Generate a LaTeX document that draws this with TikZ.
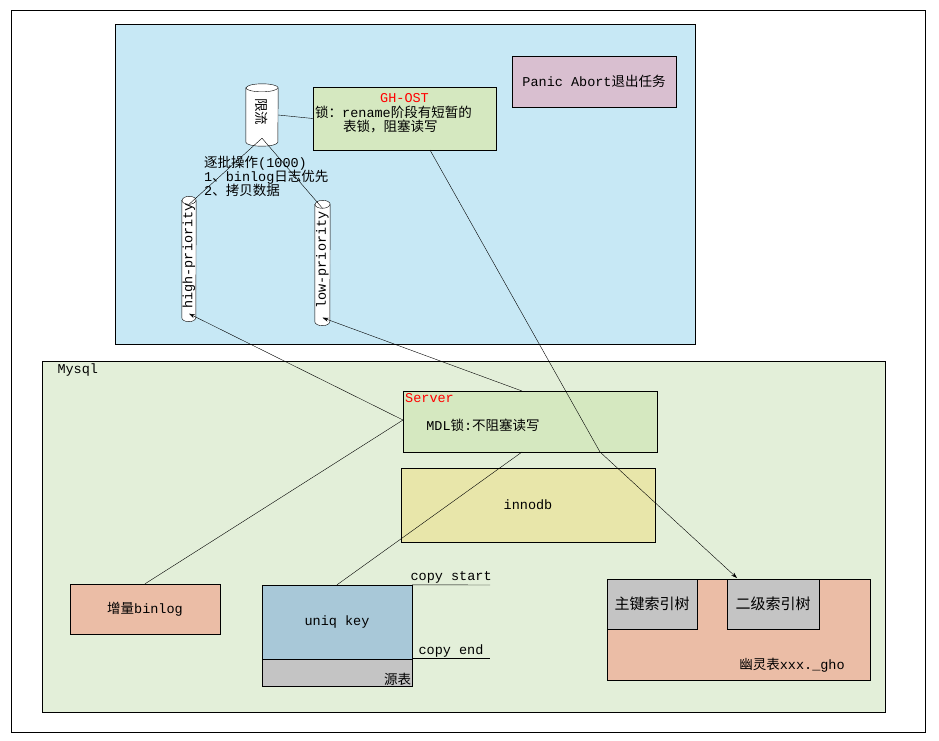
\documentclass[tikz,border=0pt]{standalone}
\usepackage{fontspec}
\setmainfont{Liberation Mono}
\newfontfamily\cjk{Noto Sans CJK SC}
\usetikzlibrary{shapes.geometric,arrows.meta,positioning}
\definecolor{skyfill}{HTML}{C7E8F5}
\definecolor{mysqlfill}{HTML}{E3EFD9}
\definecolor{greenfill}{HTML}{D5E8C0}
\definecolor{innofill}{HTML}{E8E6AA}
\definecolor{salmon}{HTML}{EBBDA6}
\definecolor{panicfill}{HTML}{D9BFD0}
\definecolor{keyfill}{HTML}{A8C8D8}
\definecolor{grayfill}{HTML}{C4C4C4}
% cylinder drawn on a named rectangle node
\newcommand{\drawcan}[2]{%
  \draw[fill=white] (#1.north west) -- (#1.south west)
    arc[start angle=180, end angle=360, x radius=#2, y radius=4pt]
    -- (#1.north east)
    arc[start angle=0, end angle=180, x radius=#2, y radius=4pt] -- cycle;
  \draw (#1.north west) arc[start angle=180, end angle=360, x radius=#2, y radius=4pt];
}
\begin{document}
\begin{tikzpicture}[x=1pt,y=-1pt,
    font=\fontsize{13.5}{16}\selectfont,
    region/.style={draw, thin},
    box/.style={draw, inner sep=0pt},
    can/.style={rectangle, inner sep=0pt},
    arrow/.style={-{Stealth[length=6pt,width=4pt]}}
]
    \useasboundingbox (0,0) rectangle (939,741);
    % frames
    \draw[fill=white] (11,10) rectangle (925,732);
    \draw[region, fill=skyfill] (115,24) rectangle (695,344);
    \draw[region, fill=mysqlfill] (42,361) rectangle (885,712);
    \node[anchor=west] (mysql) at (54,370) {Mysql};

    % GH-OST side
    \node[box, fill=panicfill, minimum width=164pt, minimum height=51pt] (panic) at (594,81.5) {Panic Abort{\cjk 退出任务}};
    \node[can, minimum width=32pt, minimum height=54pt] (limit) at (262,115) {};
    \drawcan{limit}{16pt}
    \node[rotate=-90] at ([yshift=3pt]limit.center) {\cjk 限流};
    \node[box, fill=greenfill, minimum width=183pt, minimum height=63pt] (ghost) at (404.5,118.5) {};
    \node[text=red] at (404.5,98) {GH-OST};
    \node[anchor=north west, align=left, inner sep=0pt] at (315,106) {{\cjk 锁：}rename{\cjk 阶段有短暂的}\\[-2pt]\hspace{28pt}{\cjk 表锁，阻塞读写}};
    \node[anchor=north west, align=left, inner sep=0pt] (batch) at (204,156) {{\cjk 逐批操作}(1000)\\[-2pt]1{\cjk 、}binlog{\cjk 日志优先}\\[-2pt]2{\cjk 、拷贝数据}};
    \node[can, minimum width=14pt, minimum height=117pt] (high) at (189,259) {};
    \drawcan{high}{7pt}
    \node[rotate=90] at ([yshift=3pt]high.center) {high-priority};
    \node[can, minimum width=15pt, minimum height=117pt] (low) at (322.5,263) {};
    \drawcan{low}{7.5pt}
    \node[rotate=90] at ([yshift=3pt]low.center) {low-priority};
    \draw (limit.east) -- (ghost.west);
    \draw ([yshift=4pt]limit.south) -- ([yshift=-4pt]high.north);
    \draw ([yshift=4pt]limit.south) -- ([yshift=-4pt]low.north);

    % Mysql side
    \node[box, fill=greenfill, minimum width=254pt, minimum height=61pt] (server) at (530,421.5) {};
    \node[text=red, anchor=north west, inner sep=1pt] at (404,392) {Server};
    \node at (483,425) {MDL{\cjk 锁}:{\cjk 不阻塞读写}};
    \node[box, fill=innofill, minimum width=254pt, minimum height=74pt] (innodb) at (528,505) {innodb};
    \node[box, fill=salmon, minimum width=150pt, minimum height=50pt] (binlog) at (145,609) {{\cjk 增量}binlog};
    \node[box, fill=keyfill, minimum width=150pt, minimum height=74pt] (uniq) at (337,622) {uniq key};
    \node[box, fill=grayfill, minimum width=150pt, minimum height=27pt, below=0pt of uniq] (src) {};
    \node[anchor=south east, inner sep=1pt] at (src.south east) {\cjk 源表};
    \coordinate (cs) at (490,585);
    \coordinate (ce) at (490,658);
    \draw (uniq.north east) -- (cs) node[pos=0.5, above, inner sep=1pt] {copy start};
    \draw (412,658) -- (ce) node[pos=0.5, above, inner sep=1pt] {copy end};
    \node[box, fill=salmon, minimum width=263pt, minimum height=101pt] (gho) at (738.5,629.5) {};
    \node[box, fill=grayfill, anchor=north west, minimum width=90pt, minimum height=50pt, font=\cjk\fontsize{15}{18}\selectfont] (pk) at (gho.north west) {主键索引树};
    \node[box, fill=grayfill, anchor=north west, minimum width=92pt, minimum height=50pt, font=\cjk\fontsize{15}{18}\selectfont] (sk) at (727,579) {二级索引树};
    \node at (792,665) {{\cjk 幽灵表}xxx.\_gho};

    % connectors
    \coordinate (sl) at (403,420);
    \coordinate (st) at (522,391);
    \coordinate (sb) at (522,452);
    \coordinate (bend) at (600,452);
    \coordinate (skin) at (737,578);
    \draw[arrow] (sl) -- ([yshift=4pt]high.south);
    \draw[arrow] (st) -- ([yshift=4pt]low.south);
    \draw (binlog.north) -- (sl);
    \draw (uniq.north) -- (sb);
    \draw[arrow] (430,150) -- (bend) -- (skin);
\end{tikzpicture}
\end{document}
